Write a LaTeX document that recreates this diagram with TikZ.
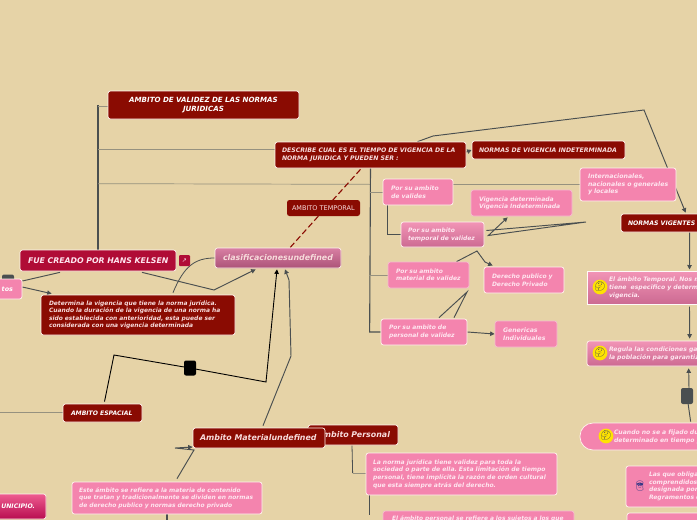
\documentclass[tikz,border=0pt]{standalone}
\usepackage{fontspec}
\setmainfont{DejaVu Sans}
\newfontfamily\emojifont{Noto Emoji}
\usetikzlibrary{arrows.meta,calc,backgrounds}
\frenchspacing
\definecolor{bg}{HTML}{E6D3A7}
\definecolor{dred}{HTML}{8A0B02}
\definecolor{pnk}{HTML}{F484AE}
\definecolor{crim}{HTML}{B00C36}
\definecolor{ln}{HTML}{4A4F50}
\definecolor{thinc}{HTML}{96917F}
\definecolor{txtp}{HTML}{FFE6F0}
\definecolor{txtr}{HTML}{F8DCDC}
\definecolor{edgec}{HTML}{FFF4EE}
\definecolor{softedge}{HTML}{F6BCD0}
\definecolor{gtop}{HTML}{F294B6}
\definecolor{gbot}{HTML}{CC6A92}
\definecolor{ctop}{HTML}{D87FA3}
\definecolor{cbot}{HTML}{AC5378}
\definecolor{mtop}{HTML}{EE5C90}
\definecolor{mbot}{HTML}{B80C50}
\tikzset{
 x=1pt,y=-1pt,
 fs/.style 2 args={font=\bfseries\itshape\fontsize{#1}{#2}\selectfont},
 base/.style={rounded corners=2.5pt,draw=edgec,line width=.7pt,align=left,inner sep=0pt,anchor=center},
 redbox/.style={base,fill=dred,text=txtr,fs={6}{7.6}},
 pinkbox/.style={base,fill=pnk,text=txtp,fs={6}{7.6}},
 softbox/.style={pinkbox,draw=softedge},
 gradbox/.style={pinkbox,top color=gtop,bottom color=gbot},
 conn/.style={draw=ln,line width=.95pt},
 trunk/.style={draw=ln,line width=1.1pt},
 arr/.style={conn,-{Triangle[length=4.5pt,width=4.5pt]}},
 thinl/.style={draw=thinc,line width=.7pt},
 blk/.style={draw=black,line width=.9pt},
 handle/.style={rounded corners=2pt,inner sep=0pt,minimum width=12pt,minimum height=15pt},
 think/.style={circle,fill=yellow!85!orange,inner sep=0pt,minimum size=10pt,text=ln,font=\emojifont\fontsize{9}{9}\selectfont},
}
% style, name, x1, y1, x2, y2, padding, text
\newcommand{\bx}[8]{%
 \pgfmathsetmacro{\bw}{#5-#3}\pgfmathsetmacro{\bh}{#6-#4}%
 \pgfmathsetmacro{\bt}{#5-#3-2*#7}\pgfmathsetmacro{\bcx}{(#3+#5)/2}\pgfmathsetmacro{\bcy}{(#4+#6)/2}%
 \node[#1,minimum width=\bw pt,minimum height=\bh pt,text width=\bt pt] (#2) at (\bcx,\bcy) {#8};}
\begin{document}
\begin{tikzpicture}
\useasboundingbox (0,0) rectangle (697,520);
\begin{scope}[on background layer]
\fill[bg] (0,0) rectangle (697,520);
\end{scope}
% free ends
\coordinate (le) at (0,412);
% nodes
\node[handle,fill=ln] (hs3) at (8,282) {};
\bx{redbox,text=white,fs={7.1}{9}}{av}{108}{91}{299}{119}{8}{\centering AMBITO DE VALIDEZ DE LAS NORMAS\\JURIDICAS\par}
\bx{redbox,fs={6.2}{8}}{dc}{275}{142}{466}{168}{7}{DESCRIBE CUAL ES EL TIEMPO DE VIGENCIA DE LA\\NORMA JURIDICA Y PUEDEN SER :}
\bx{redbox,fs={6.2}{8}}{nv}{472}{141}{625}{159}{7}{NORMAS DE VIGENCIA INDETERMINADA}
\bx{pinkbox,fs={6.2}{7.8}}{in}{580}{168}{676}{201}{8}{\mbox{Internacionales,}\\\mbox{nacionales o generales}\\y locales}
\bx{pinkbox,fs={6.1}{7.8}}{pv}{383}{179}{453}{205}{8}{Por su ambito\\de valides}
\bx{softbox,fs={6.05}{7}}{vd}{471}{190}{572}{216}{8}{Vigencia determinada\\Vigencia Indeterminada}
\bx{redbox,text=white,fs={6.2}{8}}{nvg}{621}{214}{760}{232}{7}{NORMAS VIGENTES}
\bx{gradbox,fs={6}{8}}{pt}{401}{222}{484}{247}{7}{Por su ambito\\temporal de validez}
\bx{softbox,fs={6}{7}}{pm}{388}{262}{469}{288}{8}{Por su ambito\\material de validez}
\bx{pinkbox,fs={6}{8}}{dp}{484}{267}{564}{293}{8}{Derecho publico y\\Derecho Privado}
\bx{pinkbox,fs={6}{8}}{pp}{381}{319}{467}{345}{8}{Por su ambito de\\personal de validez}
\bx{softbox,fs={6.2}{7.6}}{ge}{495}{321}{557}{347}{8}{Genericas\\Individuales}
\bx{redbox,draw=none,text=txtr,font=\fontsize{6.5}{8}\selectfont}{at}{287}{200}{360}{216}{5}{AMBITO TEMPORAL}
\bx{redbox,fill=crim,text=txtp,fs={7.8}{9}}{hk}{20}{250}{176}{271}{8}{\mbox{FUE CREADO POR HANS KELSEN}}
\node[fill=crim,rounded corners=1pt,minimum size=11pt,inner sep=0pt,text=txtp,font=\fontsize{6}{6}\selectfont] (ic) at (184.500,260.500) {\char"2197};
\bx{redbox,top color=ctop,bottom color=cbot,text=txtr,fs={7.9}{9}}{cl}{215}{248}{341}{268}{8}{clasificacionesundefined}
\bx{pinkbox,text=white,fs={6.4}{7}}{tos}{-30}{279}{22}{299}{0}{\hfill tos\hspace*{9pt}}
\bx{redbox,fs={5.95}{7.5}}{de}{41}{295}{235}{335}{8}{Determina la vigencia que tiene la norma jurídica.\\Cuando la duración de la vigencia de una norma ha\\sido establecida con anterioridad, esta puede ser\\considerada con una vigencia determinada}
\bx{redbox,text=white,fs={6.1}{8}}{ae}{63}{404}{142}{422}{8}{AMBITO ESPACIAL}
\bx{redbox,fs={7.9}{9}}{ap}{308}{425}{398}{445}{8}{\hfill Ambito Personal}
\bx{redbox,fs={7.9}{9}}{am}{193}{428}{325}{448}{7}{Ambito Materialundefined}
\bx{pinkbox,fs={5.95}{7.3}}{es}{72}{482}{262}{514}{7}{Este ámbito se refiere a la materia de contenido\\que tratan y tradicionalmente se dividen en normas\\de derecho publico y normas derecho privado}
\bx{pinkbox,fs={6.05}{7.6}}{lj}{366}{453}{557}{495}{7}{La norma jurídica tiene validez para toda la\\sociedad o parte de ella. Esta limitación de tiempo\\personal, tiene implícita la razón de orden cultural\\que esta siempre atrás del derecho.}
\bx{softbox,fs={5.9}{7.6}}{ep}{383}{511}{574}{526}{9}{\mbox{El ámbito personal se refiere a los sujetos a los que}}
\bx{redbox,top color=mtop,bottom color=mbot,text=white,fs={6.2}{7}}{mu}{-30}{494}{46}{519}{0}{\hfill\raisebox{-3pt}{UNICIPIO.}\hspace*{11pt}}
\bx{gradbox,rounded corners=0pt,draw=white!90!pink,line width=1pt,fs={6.1}{8}}{t1}{587}{271}{760}{304}{0}{\hspace*{22pt}El ámbito Temporal. Nos m\\\hspace*{22pt}tiene\ \ especifico y determ\\\hspace*{22pt}vigencia.}
\bx{gradbox,fs={6.1}{8}}{t2}{587}{341}{760}{366}{0}{\hspace*{22pt}Regula las condiciones ga\\\hspace*{22pt}la población para garantiz}
\bx{pinkbox,rounded corners=13pt,fs={6.1}{8}}{t3}{580}{423}{760}{450}{0}{\hspace*{34pt}Cuando no se a fijado du\\\hspace*{34pt}determinado en tiempo y}
\bx{pinkbox,fs={6.05}{7.6}}{t4}{626}{466}{760}{507}{0}{\hspace*{23pt}Las que obligan\\\hspace*{23pt}comprendidos\\\hspace*{23pt}designada por\\\hspace*{23pt}Regramentos d}
\bx{pinkbox}{t5}{627}{513}{760}{540}{0}{}
\node[think] (e1) at (600,287) {\char"1F914};
\node[think] (e2) at (600,353) {\char"1F914};
\node[think] (e3) at (606,436) {\char"1F914};
\node[text=ln!70!blue,inner sep=0pt,font=\emojifont\fontsize{10}{10}\selectfont] (e4) at (640,486) {\char"1F46E};
\node[handle,fill=black] (hs1) at (190,368) {};
\node[handle,fill=ln,minimum height=16pt] (hs2) at (687,396) {};
% connectors
\begin{scope}[on background layer]
\draw[trunk] (av.west -| hk.north) -- (hk.north);
\draw[thinl] ($(av.west)+(-10,1)$) -- ($(av.west)+(0,1)$);
\draw[thinl] (dc.west -| hk.north) ++(0,-6) -- ($(dc.west)+(0,-6)$);
\draw[thinl] ($(hk.north)+(0,-66)$) -- ($(dc.south)+(0,16)$);
\draw[trunk] (dc.south) -- ($(pp.west)+(-11,0)$) -- (pp.west);
\draw[thinl] ($(pv.west)+(-13,0)$) -- (pv.west);
\draw[thinl] ($(pm.west)+(-19,0)$) -- (pm.west);
\draw[thinl] (in.west) -- (in.west -| pv.east);
\draw[trunk] ($(pv.south west)+(5,0)$) |- (pt.west);
\draw[thinl] (le) -- (le -| ae.west);
\draw[conn] ($(tos.east)+(0,-8)$) -- ($(hk.south)+(-38,1)$);
\draw[arr] ($(tos.east)+(0,-2)$) -- ($(de.north west)+(11,-1)$);
\draw[arr] ($(hk.south)+(44,1)$) -- (214,290) -- ($(cl.south west)+(41,1)$);
\draw[conn,line width=.8pt] ($(de.north)+(35,-2)$) .. controls (184,266) and (195,258) .. (cl.west);
\draw[blk,-{Triangle[length=4.5pt,width=4.5pt]}] ($(ae.north)+(2,-2)$) -- (114,355) -- (hs1) -- (266,382) -- ($(cl.south)+(-1,1)$);
\draw[arr] ($(am.north)+(4,-2)$) -- (291,356) -- (289,280) -- ($(cl.south)+(7,1)$);
\draw[arr] ($(es.north)+(10,-3)$) -- (194,450) -- (175,448) -- ($(am.west)+(0,9)$);
\draw[draw=dred,line width=1.1pt,dash pattern=on 6pt off 3pt] ($(dc.south)+(-10,1)$) -- ($(cl.north)+(12,0)$);
\draw[arr] (dc.east) ++(0,-3) -- (nv.west);
\draw[arr] ($(dc.north)+(47,0)$) -- (433,136) -- (644,110) -- ($(nvg.north west)+(65,-1)$);
\draw[arr] ($(pt.east)+(2,-4)$) -- (586,222) -- ($(pt.east)+(4,1)$) -- ($(vd.south west)+(37,1)$);
\draw[arr] ($(pm.north)+(28,0)$) -- (477,251) -- (485,262) -- ($(dp.north west)+(9,-1)$);
\draw[conn] ($(pp.north)+(15,-1)$) -- (467,292) -- ($(pp.north)+(30,-1)$);
\draw[arr] (pp.east) -- (ge.west);
\draw[conn,line width=.8pt] ($(ap.south)+(-1,0)$) -- ($(lj.west)+(-13,-1)$);
\draw[thinl] ($(lj.west)+(-13,-1)$) -- ($(lj.west)+(0,-1)$);
\draw[trunk] ($(lj.south west)+(4,0)$) -- ($(ep.north west)+(-13,4)$);
\draw[trunk] (es.south -| 167,0) -- (167,520);
\draw[arr] ($(nvg.south west)+(69,0)$) -- ($(t1.north west)+(103,-1)$);
\draw[arr] ($(t1.south west)+(103,2)$) -- ($(t2.north west)+(103,-2)$);
\draw[conn] ($(t3.north west)+(111,-1)$) -- (hs2);
\draw[arr] ($(hs2.north)+(2,0)$) -- ($(t2.south west)+(102,2)$);
\end{scope}
\end{tikzpicture}
\end{document}
